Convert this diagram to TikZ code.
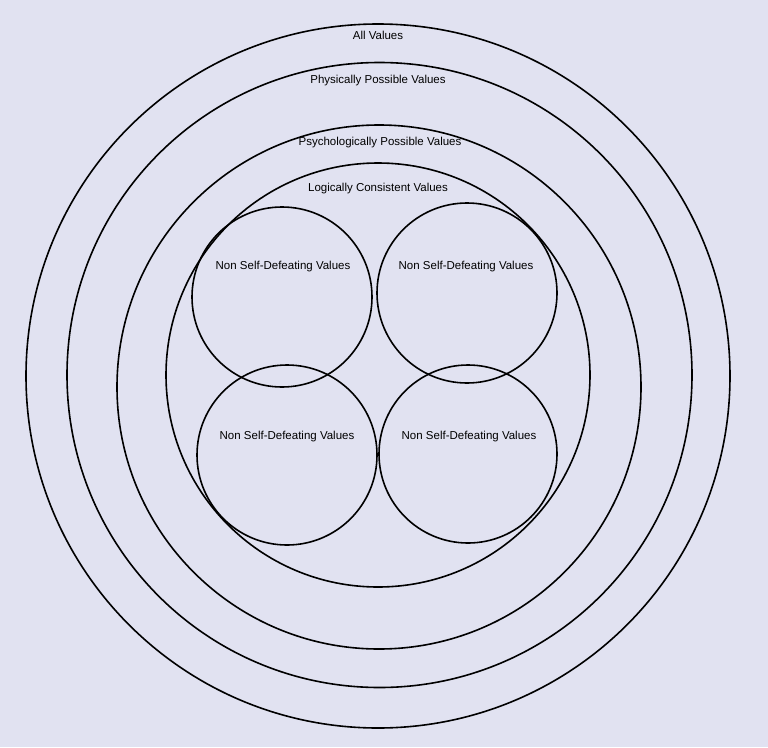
\documentclass[tikz,border=0pt]{standalone}
\usepackage{fontspec}
\setmainfont{Liberation Sans}
\definecolor{bg}{HTML}{E1E2F1}
\begin{document}
\begin{tikzpicture}[x=1pt,y=-1pt,
  ring/.style={draw=black,line width=1.6pt,circle,inner sep=0pt},
  lab/.style={font=\fontsize{11.5}{13}\selectfont,inner sep=1pt}]
\fill[bg] (0,0) rectangle (768,747);
\useasboundingbox (0,0) rectangle (768,747);
\node[ring,minimum size=704pt] (all) at (378,376) {};
\node[ring,minimum size=625pt] (phys) at (379.5,375) {};
\node[ring,minimum size=524pt] (psy) at (379,387) {};
\node[ring,minimum size=424pt] (log) at (378,375) {};
\node[ring,minimum size=180pt] (tl) at (282,297) {};
\node[ring,minimum size=180pt] (tr) at (467,293) {};
\node[ring,minimum size=180pt] (bl) at (287,455) {};
\node[ring,minimum size=178pt] (br) at (468,454) {};
\node[lab] (lall) at (378,35) {All Values};
\node[lab] (lphys) at (378,81) {Physically Possible Values};
\node[lab] (lpsy) at (380,143) {Psychologically Possible Values};
\node[lab] (llog) at (378,189) {Logically Consistent Values};
\node[lab] (ltl) at (283,267) {Non Self-Defeating Values};
\node[lab] (ltr) at (466,267) {Non Self-Defeating Values};
\node[lab] (lbl) at (287,437) {Non Self-Defeating Values};
\node[lab] (lbr) at (469,437) {Non Self-Defeating Values};
\end{tikzpicture}
\end{document}
